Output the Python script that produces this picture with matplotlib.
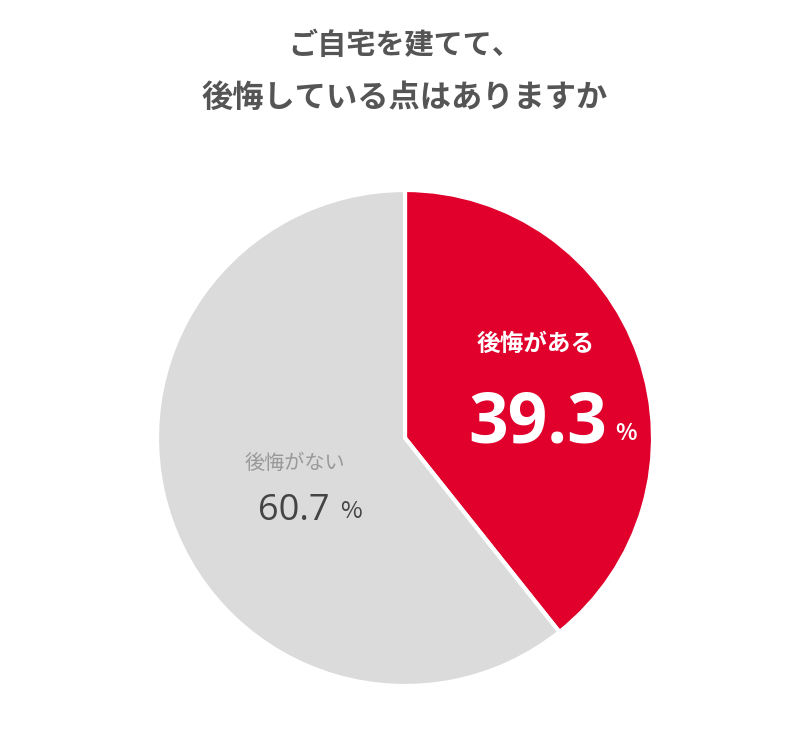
import matplotlib
matplotlib.use('Agg')
import matplotlib.pyplot as plt

plt.rcParams['font.family'] = ['Noto Sans CJK JP', 'DejaVu Sans']

# data
labels = ['後悔がある', '後悔がない']
values = [39.3, 60.7]
colors = ['#E0002B', '#DBDBDB']
title_lines = ['ご自宅を建てて、', '後悔している点はありますか']

fig = plt.figure(figsize=(8.1, 7.53), dpi=100)
ax = fig.add_axes([0, 0, 1, 1])

# pie drawn in pixel-like coordinates
ax.pie(values, colors=colors, startangle=90, counterclock=False,
       center=(405, 315), radius=248, frame=True,
       wedgeprops={'edgecolor': 'white', 'linewidth': 3})
ax.set_xlim(0, 810)
ax.set_ylim(0, 753)
ax.set_aspect('auto')
ax.axis('off')

# title
ax.text(405, 753 - 45, title_lines[0], ha='center', va='center',
        fontsize=21, color='#555555', fontweight='bold')
ax.text(405, 753 - 98, title_lines[1], ha='center', va='center',
        fontsize=22.5, color='#555555', fontweight='bold')

# red slice labels
ax.text(536, 753 - 344, labels[0], ha='center', va='center',
        fontsize=17, color='white', fontweight='bold')
ax.text(538, 753 - 417, f'{values[0]}', ha='center', va='baseline',
        fontsize=50, color='white', fontweight='bold', family='Open Sans',
        transform=ax.transData + matplotlib.transforms.ScaledTranslation(0, -25 / 100, fig.dpi_scale_trans))
ax.text(626, 753 - 433, '%', ha='center', va='center',
        fontsize=16, color='white', fontweight='bold')

# gray slice labels
ax.text(295, 753 - 463, labels[1], ha='center', va='center',
        fontsize=14.5, color='#999999')
ax.text(294, 753 - 507, f'{values[1]}', ha='center', va='baseline',
        fontsize=26, color='#444444', family='Open Sans',
        transform=ax.transData + matplotlib.transforms.ScaledTranslation(0, -12.5 / 100, fig.dpi_scale_trans))
ax.text(351, 753 - 511, '%', ha='center', va='center',
        fontsize=17, color='#444444')

fig.savefig('out.png', dpi=100, facecolor='white')
